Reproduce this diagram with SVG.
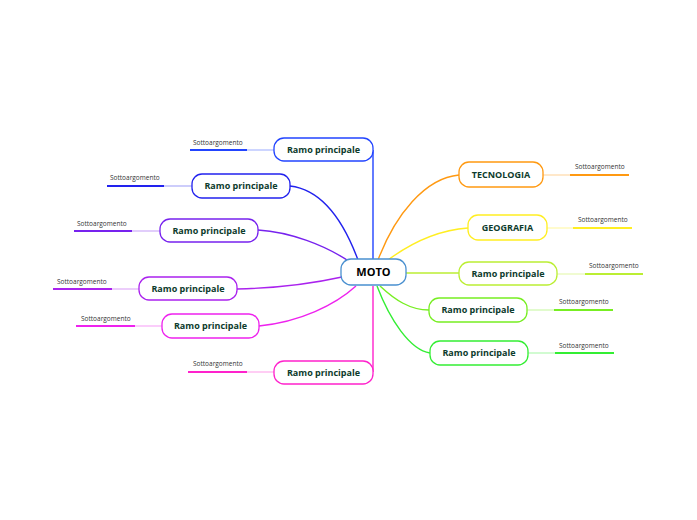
<svg xmlns="http://www.w3.org/2000/svg" width="697" height="520" viewBox="0 0 697 520">
<style>
.box{fill:#fff;stroke-width:1.3}
.main{font-family:"Open Sans","Noto Sans","DejaVu Sans",sans-serif;font-weight:bold;font-size:9px;fill:#0d3b2c;text-anchor:middle}
.sub{font-family:"Open Sans","Noto Sans","DejaVu Sans",sans-serif;font-size:6.5px;fill:#333}
.c{fill:none;stroke-width:1.4}
.thin{stroke-width:1;opacity:0.45}
.thick{stroke-width:1.8}
</style>
<rect width="697" height="520" fill="#fff"/>
<g id="connectors" class="c">
<path d="M373,150 V260" stroke="#2244ff"/>
<path d="M290,186 C325,190 345,225 358,260" stroke="#2222ee"/>
<path d="M258,230 C290,232 325,245 350,262" stroke="#7722ee"/>
<path d="M237,289 C280,288 315,283 342,277" stroke="#aa22ee"/>
<path d="M259,326 C300,322 335,305 356,286" stroke="#ee22ee"/>
<path d="M373,372 V286" stroke="#ff22cc"/>
<path d="M378,260 C395,215 425,178 459,175" stroke="#ff9911"/>
<path d="M388,260 C415,240 440,230 468,228" stroke="#ffee22"/>
<path d="M406,273 H459" stroke="#bbee33"/>
<path d="M380,286 C395,300 410,310 429,310" stroke="#77ee22"/>
<path d="M377,286 C390,320 410,350 430,353" stroke="#33ee33"/>
<!-- sub branches -->
<path class="thin" d="M274,150 H247" stroke="#2244ff"/><path class="thick" d="M247,150 H190" stroke="#2244ff"/>
<path class="thin" d="M192,186 H164" stroke="#2222ee"/><path class="thick" d="M164,186 H107" stroke="#2222ee"/>
<path class="thin" d="M160,231 H132" stroke="#7722ee"/><path class="thick" d="M132,231 H74" stroke="#7722ee"/>
<path class="thin" d="M139,289 H112" stroke="#aa22ee"/><path class="thick" d="M112,289 H53" stroke="#aa22ee"/>
<path class="thin" d="M162,326 H135" stroke="#ee22ee"/><path class="thick" d="M135,326 H76" stroke="#ee22ee"/>
<path class="thin" d="M274,372 H247" stroke="#ff22cc"/><path class="thick" d="M247,372 H188" stroke="#ff22cc"/>
<path class="thin" d="M543,175 H570" stroke="#ff9911"/><path class="thick" d="M570,175 H629" stroke="#ff9911"/>
<path class="thin" d="M547,228 H573" stroke="#ffee22"/><path class="thick" d="M573,228 H632" stroke="#ffee22"/>
<path class="thin" d="M557,274 H585" stroke="#bbee33"/><path class="thick" d="M585,274 H643" stroke="#bbee33"/>
<path class="thin" d="M527,310 H554" stroke="#77ee22"/><path class="thick" d="M554,310 H613" stroke="#77ee22"/>
<path class="thin" d="M528,353 H555" stroke="#33ee33"/><path class="thick" d="M555,353 H614" stroke="#33ee33"/>
</g>
<g id="moto"><rect class="box" x="341" y="259" width="65" height="26" rx="10" stroke="#4a90d0"/><text x="373.5" y="276" style="font-family:'Open Sans','Noto Sans',sans-serif;font-weight:bold;font-size:11px;fill:#000;text-anchor:middle">MOTO</text></g>
<g id="n1"><rect class="box" x="274" y="138" width="99" height="23" rx="10" stroke="#2244ff"/><text class="main" x="323.5" y="153">Ramo principale</text><text class="sub" x="193" y="145">Sottoargomento</text></g>
<g id="n2"><rect class="box" x="192" y="174" width="98" height="24" rx="10" stroke="#2222ee"/><text class="main" x="241" y="189">Ramo principale</text><text class="sub" x="110" y="180">Sottoargomento</text></g>
<g id="n3"><rect class="box" x="160" y="219" width="98" height="23" rx="10" stroke="#7722ee"/><text class="main" x="209" y="234">Ramo principale</text><text class="sub" x="77" y="226">Sottoargomento</text></g>
<g id="n4"><rect class="box" x="139" y="277" width="98" height="23" rx="10" stroke="#aa22ee"/><text class="main" x="188" y="292">Ramo principale</text><text class="sub" x="57" y="284">Sottoargomento</text></g>
<g id="n5"><rect class="box" x="162" y="314" width="97" height="24" rx="10" stroke="#ee22ee"/><text class="main" x="210.5" y="329">Ramo principale</text><text class="sub" x="81" y="321">Sottoargomento</text></g>
<g id="n6"><rect class="box" x="274" y="361" width="99" height="23" rx="10" stroke="#ff22cc"/><text class="main" x="323.5" y="376">Ramo principale</text><text class="sub" x="193" y="366">Sottoargomento</text></g>
<g id="n7"><rect class="box" x="459" y="162" width="84" height="25" rx="10" stroke="#ff9911"/><text class="main" x="501" y="178">TECNOLOGIA</text><text class="sub" x="575" y="169">Sottoargomento</text></g>
<g id="n8"><rect class="box" x="468" y="215" width="79" height="25" rx="10" stroke="#ffee22"/><text class="main" x="507.5" y="231">GEOGRAFIA</text><text class="sub" x="578" y="222">Sottoargomento</text></g>
<g id="n9"><rect class="box" x="459" y="262" width="98" height="23" rx="10" stroke="#bbee33"/><text class="main" x="508" y="277">Ramo principale</text><text class="sub" x="589" y="268">Sottoargomento</text></g>
<g id="n10"><rect class="box" x="429" y="298" width="98" height="24" rx="10" stroke="#77ee22"/><text class="main" x="478" y="313">Ramo principale</text><text class="sub" x="559" y="304">Sottoargomento</text></g>
<g id="n11"><rect class="box" x="430" y="341" width="98" height="24" rx="10" stroke="#33ee33"/><text class="main" x="479" y="356">Ramo principale</text><text class="sub" x="559" y="348">Sottoargomento</text></g>
</svg>
